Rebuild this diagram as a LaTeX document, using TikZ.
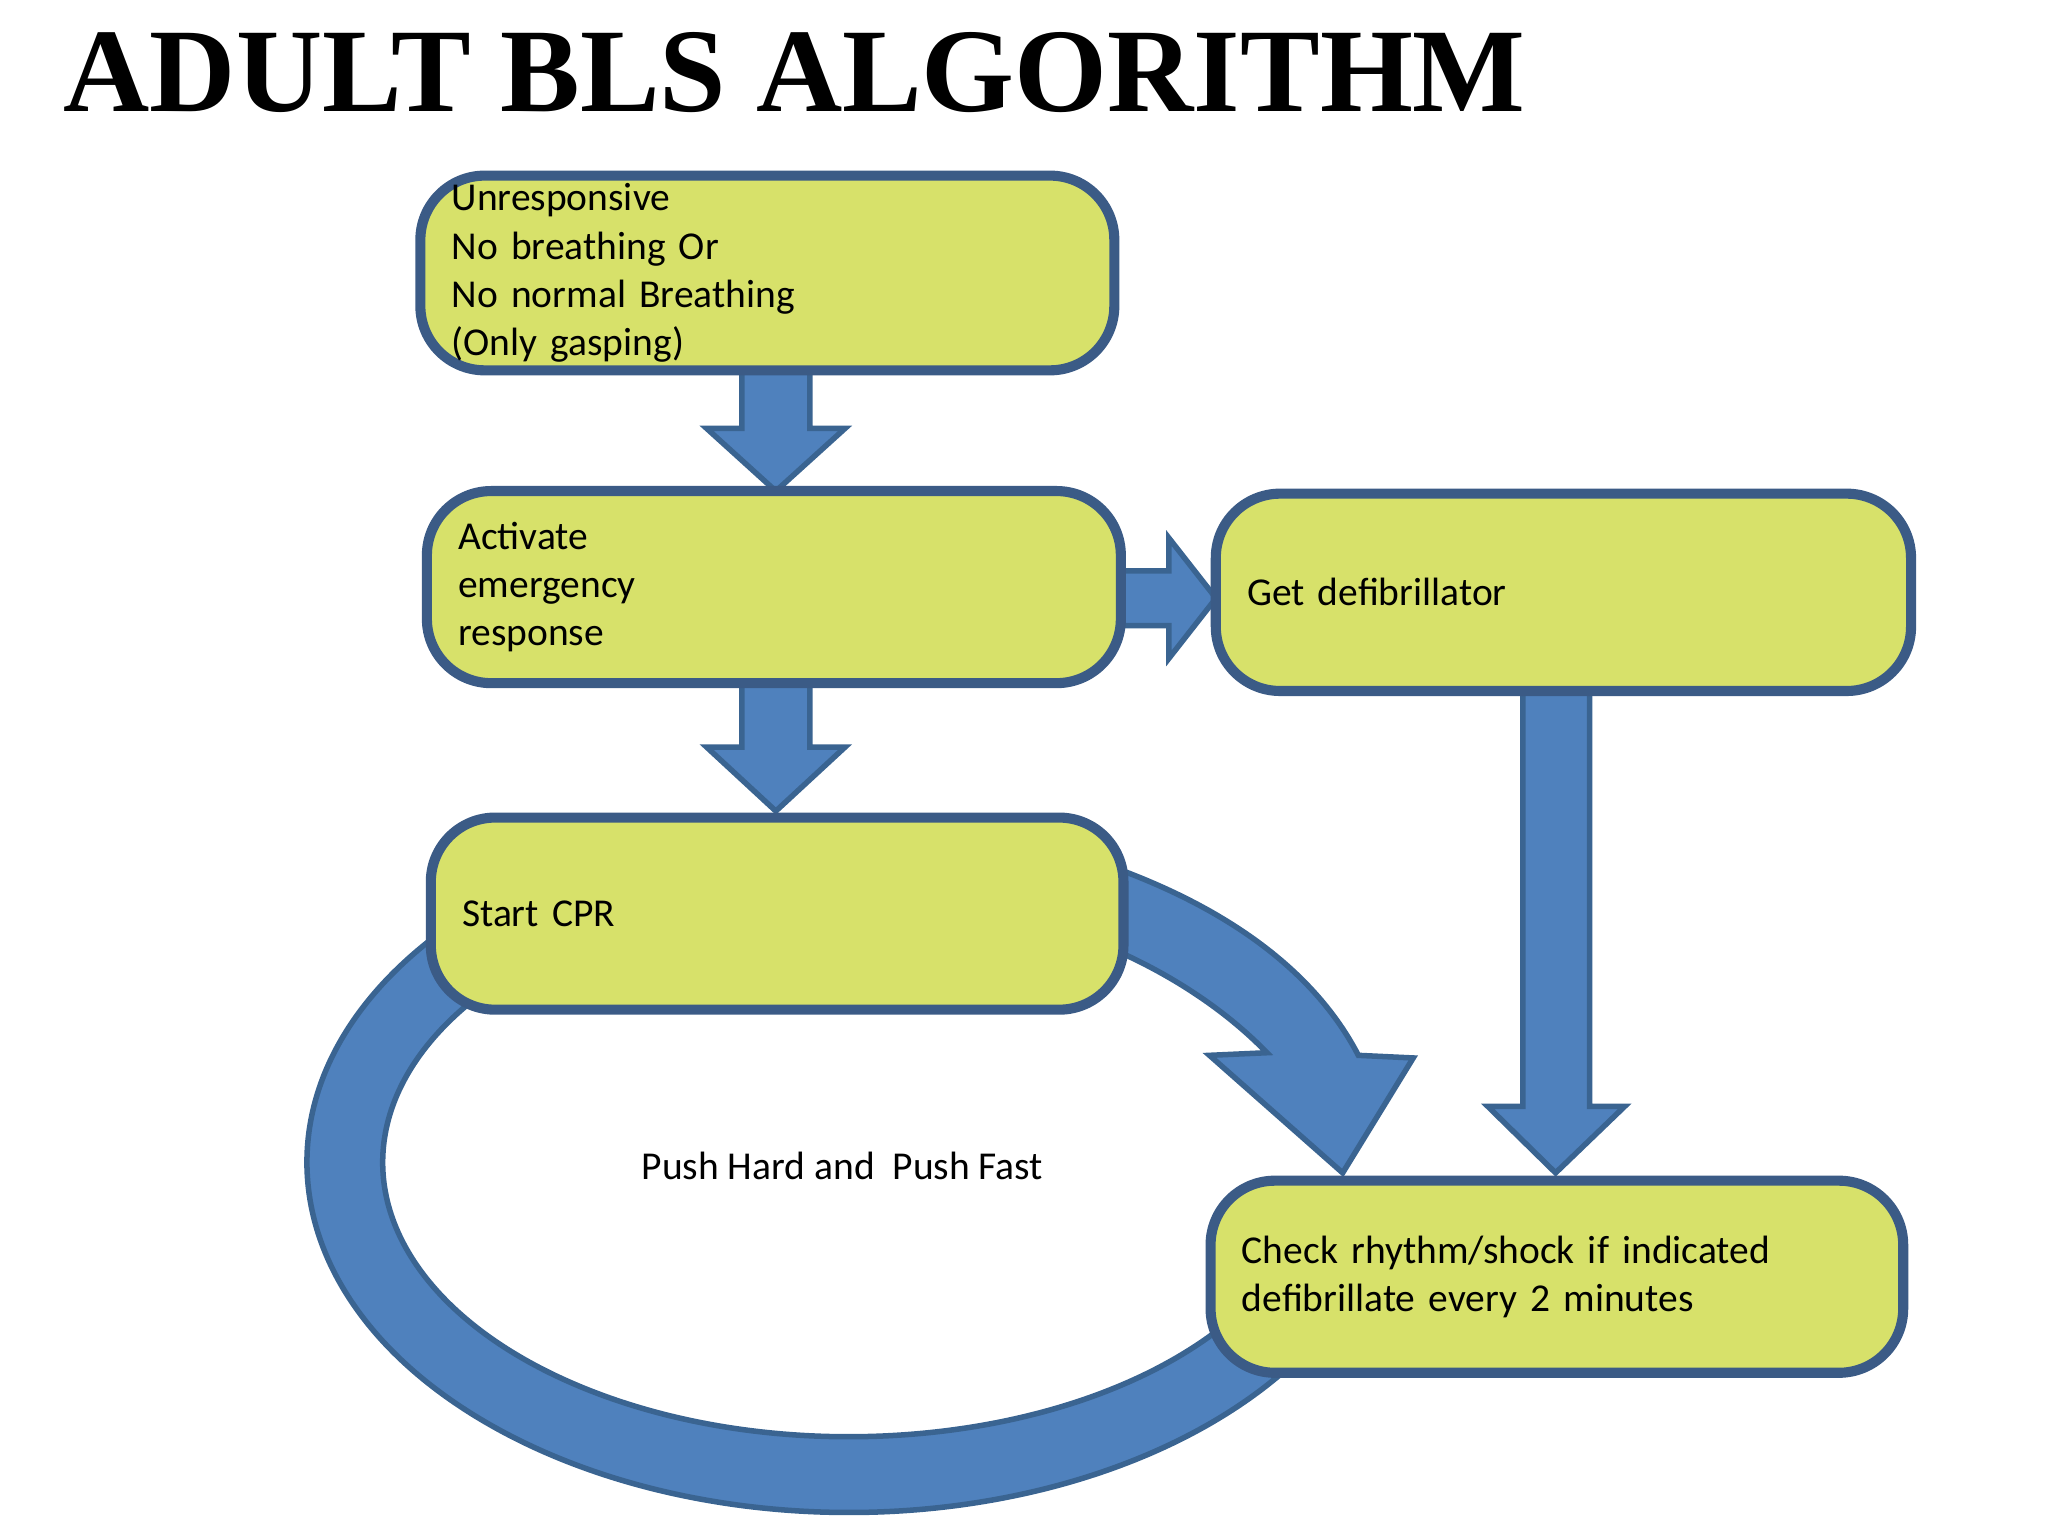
\documentclass[tikz,border=0pt]{standalone}
\usepackage{fontspec}
\setmainfont{Carlito}
\newfontfamily\titlefont{Liberation Serif}
\usetikzlibrary{positioning, calc}
\definecolor{boxfill}{HTML}{D7E16A}
\definecolor{boxline}{HTML}{3B5B86}
\definecolor{arrfill}{HTML}{4F81BD}
\definecolor{arrline}{HTML}{3A6491}
\tikzset{
  stage/.style={draw=boxline, line width=2.2pt, fill=boxfill, rounded corners=14pt,
    align=left, inner xsep=0.24cm, inner ysep=0pt, font=\fontsize{8.6}{10.5}\selectfont},
  flow/.style={draw=arrline, line width=1.2pt, fill=arrfill, line join=miter}
}
\begin{document}
\begin{tikzpicture}[x=0.01cm, y=-0.01cm]
  \useasboundingbox (0,0) rectangle (1568,1176);
  % title
  \node[anchor=base west, inner sep=0, font=\titlefont\bfseries\fontsize{26}{30}\selectfont] (title) at (48,85) {ADULT BLS ALGORITHM};
  % loop arrow
  \fill[arrfill, draw=arrline, line width=1.2pt] (650,890) ++(140:415 and -268) arc[start angle=140, end angle=322, x radius=415, y radius=-268]
    -- ($(650,890)+(322:357 and -210)$) arc[start angle=322, end angle=140, x radius=357, y radius=-210] -- cycle;
  % curved arrow
  \draw[flow] (855,665) .. controls (950,700) and (1010,750) .. (1040,808) -- (1082,810) -- (1028,898)
    -- (926,808) -- (970,806) .. controls (940,775) and (900,748) .. (855,728) -- cycle;
  % straight arrows
  \draw[flow] (568,280) -- (620,280) -- (620,328) -- (647,328) -- (594,376) -- (541,328) -- (568,328) -- cycle;
  \draw[flow] (568,520) -- (620,520) -- (620,572) -- (647,572) -- (594,621) -- (541,572) -- (568,572) -- cycle;
  \draw[flow] (855,437) -- (895,437) -- (895,412) -- (931,458) -- (895,504) -- (895,479) -- (855,479) -- cycle;
  \draw[flow] (1166,525) -- (1217,525) -- (1217,847) -- (1244,847) -- (1191,898) -- (1139,847) -- (1166,847) -- cycle;
  % boxes
  \node[stage, text width=4.83cm, minimum height=1.49cm] (unresp) at (587.5,209)
    {Unresponsive\\No breathing Or\\No normal Breathing\\(Only gasping)};
  \node[stage, text width=4.83cm, minimum height=1.47cm] (activate) at (592.5,449.5)
    {Activate\\emergency\\response};
  \node[stage, text width=4.84cm, minimum height=1.51cm] (defib) at (1197,453.5) {Get defibrillator};
  \node[stage, text width=4.82cm, minimum height=1.47cm] (cpr) at (595,699.5) {Start CPR};
  \node[stage, text width=4.82cm, minimum height=1.47cm] (check) at (1192,977.5)
    {Check rhythm/shock if indicated\\defibrillate every 2 minutes};
  \node[font=\fontsize{8.6}{10.5}\selectfont] (push) at (645,893) {Push Hard and~~Push Fast};
\end{tikzpicture}
\end{document}
